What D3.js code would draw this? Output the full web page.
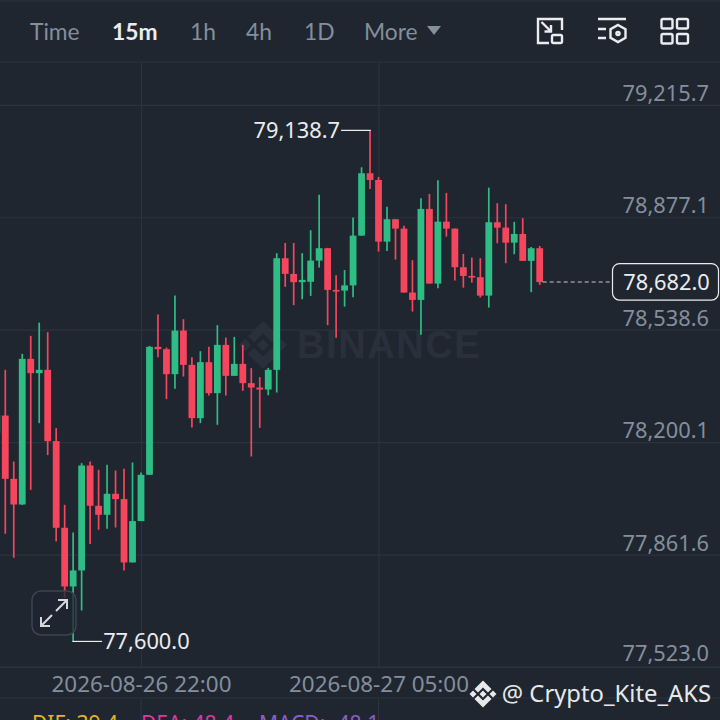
<!DOCTYPE html>
<html>
<head>
<meta charset="utf-8">
<script src="https://cdn.jsdelivr.net/npm/d3@7"></script>
<style>
  html, body { margin: 0; padding: 0; background: #1f2630; }
  svg { display: block; }
</style>
</head>
<body>
<div id="chart"></div>
<script>
// Valeurs (bougies 15m)
const opens = [78228.1,78280.1,78089.6,78012.3,78450.8,78407.7,78417.7,78203.1,77942.2,77765.5,77813.7,78129.7,78008.4,77981.3,78044.5,78028.6,77837.8,77962.3,78101.7,78486.9,78479.9,78404.7,78535.9,78432.7,78272.3,78440.8,78347.5,78492.9,78399.6,78435.7,78377.6,78364.4,78358.4,78417.7,78753.8,78706.6,78681.6,78682.9,78746.6,78783.9,78658.4,78656.3,78671.9,78821.8,79009.6,78989.4,78803.7,78871.2,78842.9,78650.3,78628.3,78902.2,78677.4,78863.9,78842.9,78726.7,78700.5,78696.6,78641.2,78862.1,78845.9,78800.7,78826.9,78745.7,78783.9];
const highs = [78300.0,78417.7,78141.7,78465.8,78520.0,78560.0,78531.1,78242.2,78011.4,77928.1,78136.9,78141.7,78116.7,78131.8,78114.6,78119.7,78138.7,78108.6,78490.0,78584.1,78484.8,78641.3,78570.2,78455.9,78473.9,78486.9,78552.2,78514.9,78517.0,78492.9,78422.8,78395.7,78423.7,78768.9,78799.8,78799.8,78768.9,78838.1,78945.2,78785.0,78702.6,78718.0,78876.6,79027.6,79138.7,78998.5,78909.1,78871.2,78851.9,78747.8,78934.4,78947.3,78988.5,78950.3,78842.9,78766.7,78755.6,78753.8,78966.3,78919.3,78916.3,78863.0,78874.2,78787.8,78790.8];
const lows = [78215.0,77924.1,77851.9,78011.0,78056.5,78257.3,78161.0,77901.0,77731.5,77600.0,77693.3,77893.1,77936.2,77939.2,77943.1,77813.7,77837.8,77962.3,78101.7,78455.9,78329.5,78360.5,78397.5,78244.0,78257.3,78340.3,78252.2,78340.3,78399.6,78354.5,78156.8,78243.1,78341.5,78349.3,78667.4,78612.4,78630.4,78640.3,78725.5,78552.2,78514.0,78608.1,78635.9,78821.8,78962.3,78773.7,78775.8,78749.6,78650.3,78593.1,78523.0,78677.4,78663.5,78818.8,78686.4,78665.3,78680.4,78635.2,78605.1,78798.9,78738.7,78765.8,78745.7,78651.5,78673.4];
const closes = [78282.2,78089.6,78012.3,78450.8,78407.7,78417.7,78203.1,77942.2,77765.5,77813.7,78129.7,78008.4,77981.3,78044.5,78028.6,77837.8,77962.3,78101.7,78486.9,78479.9,78404.7,78535.9,78432.7,78272.3,78440.8,78347.5,78492.9,78399.6,78435.7,78377.6,78364.4,78358.4,78417.7,78753.8,78706.6,78681.6,78688.5,78746.6,78783.9,78658.4,78653.3,78671.9,78821.8,79009.6,78989.4,78803.7,78871.2,78842.9,78650.3,78628.3,78902.2,78677.4,78863.9,78842.9,78726.7,78700.5,78695.4,78641.2,78862.1,78845.9,78800.7,78826.9,78745.7,78783.9,78682.0];

const priceTicks = [79215.7, 78877.1, 78538.6, 78200.1, 77861.6, 77523.0];
const timeTicks = [{ index: 17, label: '2026-08-26 22:00' }, { index: 45, label: '2026-08-27 05:00' }];
const tabs = ['Time', '15m', '1h', '4h', '1D', 'More'];
const indicators = ['DIF: 39.4', 'DEA: 48.4', 'MACD: -48.1'];
const lastPrice = 78682.0;
const maxPrice = 79138.7;
const minPrice = 77600.0;

const colors = { bg: '#1f2630', grid: '#2c333d', muted: '#848e9c', white: '#eaecef', up: '#2ebd85', down: '#f6465d' };
const labelFont = '"Noto Sans", sans-serif';
const fmt = d3.format(',.1f');

const width = 720;
const height = 720;

const svg = d3.select('#chart').append('svg')
    .attr('width', width)
    .attr('height', height)
    .style('background', colors.bg);

// Échelles
const y = d3.scaleLinear().domain([77523.0, 79215.7]).range([667, 104.8]);
const x = d3.scalePoint().domain(d3.range(opens.length)).range([-3.2, 539.7]);

// Cadres
[1, 62, 667, 698].forEach(v => {
  svg.append('line').attr('x1', 0).attr('x2', width).attr('y1', v).attr('y2', v)
      .attr('stroke', colors.grid).attr('stroke-width', 1.2);
});

// Filigrane Binance
function logo(g, size, fill) {
  const s = size / 2;
  const path = [
    `M0,${-s * 0.26}L${s * 0.26},0L0,${s * 0.26}L${-s * 0.26},0Z`,
    `M${-s},0L${-s * 0.74},${-s * 0.26}L${-s * 0.48},0L${-s * 0.74},${s * 0.26}Z`,
    `M${s},0L${s * 0.74},${-s * 0.26}L${s * 0.48},0L${s * 0.74},${s * 0.26}Z`,
    `M0,${-s}L${s * 0.63},${-s * 0.37}L${s * 0.37},${-s * 0.11}L0,${-s * 0.48}L${-s * 0.37},${-s * 0.11}L${-s * 0.63},${-s * 0.37}Z`,
    `M0,${s}L${s * 0.63},${s * 0.37}L${s * 0.37},${s * 0.11}L0,${s * 0.48}L${-s * 0.37},${s * 0.11}L${-s * 0.63},${s * 0.37}Z`
  ].join('');
  g.append('path').attr('d', path).attr('fill', fill);
}
logo(svg.append('g').attr('transform', 'translate(263,345)'), 48, '#2a303b');
svg.append('text').text('BINANCE')
    .attr('x', 297).attr('y', 358)
    .attr('font-family', '"Liberation Sans", sans-serif').attr('font-weight', 700)
    .attr('font-size', 38).attr('letter-spacing', 1.6).attr('fill', '#2a303b');

// Axe des prix
const yAxis = svg.append('g')
    .attr('transform', `translate(${width},0)`)
    .call(d3.axisLeft(y).tickValues(priceTicks).tickSize(width).tickFormat(fmt));
yAxis.select('.domain').remove();
yAxis.selectAll('.tick line').attr('stroke', colors.grid).attr('stroke-width', 1.2);
yAxis.selectAll('.tick text')
    .attr('x', -11).attr('dy', d => d === 77523.0 ? -7 : -4.5)
    .attr('font-family', labelFont).attr('font-size', 21.8).attr('fill', colors.muted);

// Axe du temps
const xAxis = svg.append('g')
    .attr('transform', 'translate(0,667)')
    .call(d3.axisBottom(x).tickValues(timeTicks.map(d => d.index)).tickSize(-605)
      .tickFormat((d, i) => timeTicks[i].label));
xAxis.select('.domain').remove();
xAxis.selectAll('.tick line').attr('stroke', colors.grid).attr('stroke-width', 1.2);
xAxis.selectAll('.tick text')
    .attr('y', 17).attr('dy', '0.35em')
    .attr('font-family', labelFont).attr('font-size', 22.4).attr('fill', colors.muted);
svg.selectAll('line.lower').data(timeTicks).enter().append('line').classed('lower', true)
    .attr('x1', d => x(d.index)).attr('x2', d => x(d.index))
    .attr('y1', 698).attr('y2', height)
    .attr('stroke', colors.grid).attr('stroke-width', 1.2);

// Bougies
const candles = svg.selectAll('g.candle')
    .data(d3.range(opens.length))
    .enter().append('g').classed('candle', true);
const tone = i => closes[i] >= opens[i] ? colors.up : colors.down;

candles.append('line')
    .attr('x1', i => x(i)).attr('x2', i => x(i))
    .attr('y1', i => y(highs[i])).attr('y2', i => y(lows[i]))
    .attr('stroke', tone).attr('stroke-width', 1.7);
candles.append('rect')
    .attr('x', i => x(i) - 3.4)
    .attr('y', i => y(Math.max(opens[i], closes[i])))
    .attr('width', 6.8)
    .attr('height', i => Math.max(1.6, Math.abs(y(opens[i]) - y(closes[i]))))
    .attr('fill', tone);

// Repères haut / bas
const maxIndex = highs.indexOf(maxPrice);
const minIndex = lows.indexOf(minPrice);
svg.append('line')
    .attr('x1', x(maxIndex) - 29).attr('x2', x(maxIndex) + 0.8)
    .attr('y1', y(maxPrice)).attr('y2', y(maxPrice))
    .attr('stroke', colors.white).attr('stroke-width', 1.2);
svg.append('text').text(fmt(maxPrice))
    .attr('x', x(maxIndex) - 30).attr('y', y(maxPrice) + 8)
    .attr('text-anchor', 'end')
    .attr('font-family', labelFont).attr('font-size', 21.8).attr('fill', colors.white);
svg.append('line')
    .attr('x1', x(minIndex) - 0.8).attr('x2', x(minIndex) + 29)
    .attr('y1', y(minPrice)).attr('y2', y(minPrice))
    .attr('stroke', colors.white).attr('stroke-width', 1.2);
svg.append('text').text(fmt(minPrice))
    .attr('x', x(minIndex) + 30).attr('y', y(minPrice) + 8)
    .attr('font-family', labelFont).attr('font-size', 21.8).attr('fill', colors.white);

// Dernier prix
svg.append('line')
    .attr('x1', x(opens.length - 1) + 3).attr('x2', 612)
    .attr('y1', y(lastPrice)).attr('y2', y(lastPrice))
    .attr('stroke', '#c9ccd1').attr('stroke-width', 1.1).attr('stroke-dasharray', '4,3');
svg.append('rect')
    .attr('x', 612.5).attr('y', y(lastPrice) - 18.5).attr('width', 106).attr('height', 36.5).attr('rx', 7)
    .attr('fill', colors.bg).attr('stroke', colors.white).attr('stroke-width', 1.2);
svg.append('text').text(fmt(lastPrice))
    .attr('x', 666.5).attr('y', y(lastPrice) + 7.8)
    .attr('text-anchor', 'middle')
    .attr('font-family', labelFont).attr('font-size', 21.8).attr('fill', colors.white);

// Onglets
const tabX = [30, 112, 190, 246, 304, 364];
svg.selectAll('text.tab').data(tabs).enter().append('text').classed('tab', true)
    .text(d => d)
    .attr('x', (d, i) => tabX[i]).attr('y', 39.5)
    .attr('font-family', 'Lato, sans-serif')
    .attr('font-size', 22.8)
    .attr('font-weight', d => d === '15m' ? 700 : 400)
    .attr('fill', d => d === '15m' ? colors.white : colors.muted);
svg.append('path').attr('d', 'M427,26H441L434,35Z').attr('fill', colors.muted);

// Icônes de la barre
const icons = svg.append('g').attr('fill', 'none').attr('stroke', colors.white).attr('stroke-width', 2.4);
icons.append('path').attr('d', 'M549,43H538V19H562V30');
icons.append('rect').attr('x', 552).attr('y', 35).attr('width', 10).attr('height', 8).attr('rx', 1.5);
icons.append('path').attr('d', 'M541.5,22L551,31.5M551,25V31.5H544.5');
icons.append('path').attr('d', 'M598,19H626M598,29H606M598,38H606M618,25L625.5,29.2V37.8L618,42L610.5,37.8V29.2Z');
icons.append('circle').attr('cx', 618).attr('cy', 33.5).attr('r', 1.6);
[[661.5, 19], [677, 19], [661.5, 34], [677, 34]].forEach(p => {
  icons.append('rect').attr('x', p[0]).attr('y', p[1]).attr('width', 11).attr('height', 9.5).attr('rx', 1.5);
});

// Bouton plein écran
svg.append('rect')
    .attr('x', 32).attr('y', 591).attr('width', 44).attr('height', 44).attr('rx', 9)
    .attr('fill', colors.bg).attr('fill-opacity', 0.75).attr('stroke', '#3d444f').attr('stroke-width', 1.5);
svg.append('path')
    .attr('d', 'M41,626L52,615M41,617V626H50M56,611L67,600M58,600H67V609')
    .attr('fill', 'none').attr('stroke', '#d5d8dc').attr('stroke-width', 2);

// Indicateurs MACD (coupés en bas de l'image)
const indicatorX = [32, 141, 259];
const indicatorColors = ['#e6b422', '#d63da0', '#8a5fc4'];
svg.selectAll('text.indicator').data(indicators).enter().append('text').classed('indicator', true)
    .text(d => d)
    .attr('x', (d, i) => indicatorX[i]).attr('y', 731)
    .attr('font-family', labelFont).attr('font-size', 21)
    .attr('fill', (d, i) => indicatorColors[i]);

// Signature
logo(svg.append('g').attr('transform', 'translate(483,694)'), 27, '#e8e8e8');
svg.append('text').text('@ Crypto_Kite_AKS')
    .attr('x', 711).attr('y', 702)
    .attr('text-anchor', 'end')
    .attr('font-family', labelFont).attr('font-size', 23.8).attr('fill', '#e8e8e8');
</script>
</body>
</html>
